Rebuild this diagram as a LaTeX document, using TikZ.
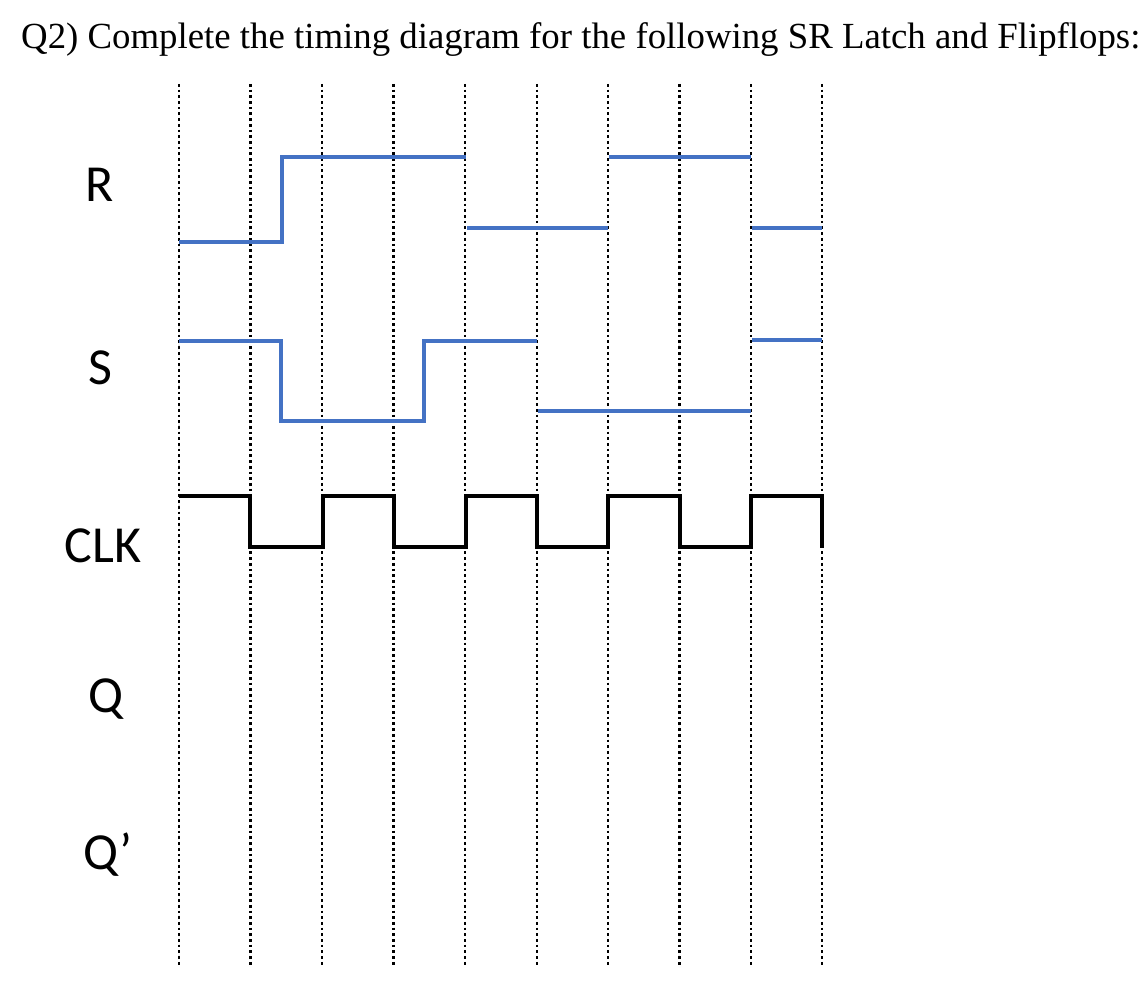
\documentclass[tikz,border=0pt]{standalone}
\usepackage{fontspec}
\setmainfont{Liberation Serif}
\newfontfamily\lblfont{Carlito}
\tikzset{
  grid/.style={line width=2.7pt, black, line cap=butt, dash pattern=on 2.7pt off 3.0pt},
  sig/.style={line width=4.2pt, color={rgb,255:red,68;green,114;blue,196}, line join=miter},
  clk/.style={line width=4.2pt, black, line join=miter},
  lbl/.style={font=\lblfont\fontsize{52}{52}\selectfont, inner sep=0pt},
}
\begin{document}
\begin{tikzpicture}[x=1pt,y=-1pt]
\useasboundingbox (0,0) rectangle (1144,992);
\node[font=\fontsize{36.8}{40}\selectfont, inner sep=0pt, anchor=west] (title) at (21,40) {Q2) Complete the timing diagram for the following SR Latch and Flipflops:};
% dotted grid
\foreach \x in {179,250.5,322,393.5,465,537,608,679.5,751,822}
  \draw[grid] (\x,84) -- (\x,966);
% labels
\node[lbl] (lR) at (100,185) {R};
\node[lbl] (lS) at (100,368) {S};
\node[lbl] (lC) at (103,546) {CLK};
\node[lbl] (lQ) at (106,699) {Q};
\node[lbl] (lQb) at (108,855) {Q’};
% R
\draw[sig] (179,242) -- (282,242) -- (282,157) -- (466,157);
\draw[sig] (467,228) -- (608,228);
\draw[sig] (609,157) -- (751,157);
\draw[sig] (752,228) -- (822,228);
% S
\draw[sig] (179,341) -- (281,341) -- (281,421) -- (424,421) -- (424,341) -- (537,341);
\draw[sig] (538,411) -- (751,411);
\draw[sig] (752,340) -- (822,340);
% CLK
\draw[clk] (179,496) -- (250,496) -- (250,547) -- (323,547) -- (323,496) -- (394,496) -- (394,547) -- (466,547) -- (466,496) -- (537,496) -- (537,547) -- (608,547) -- (608,496) -- (680,496) -- (680,547) -- (751,547) -- (751,496) -- (822,496) -- (822,548);
\end{tikzpicture}
\end{document}
